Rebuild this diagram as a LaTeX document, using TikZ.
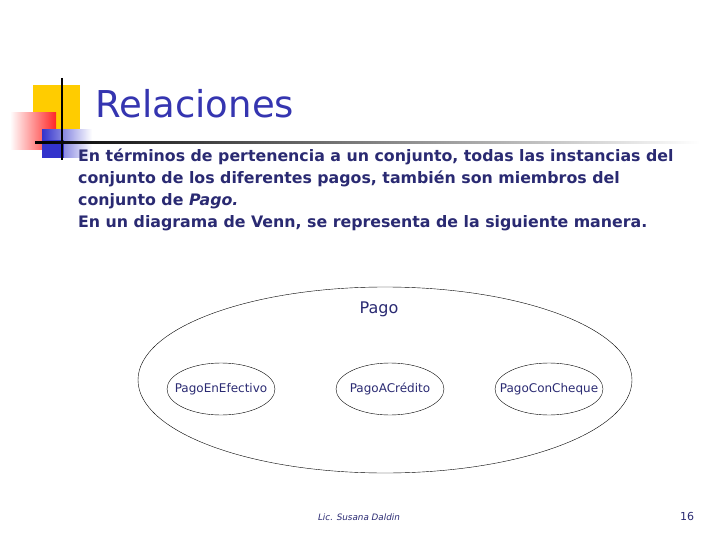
\documentclass[tikz,border=0pt]{standalone}
\usepackage{fontspec}
\setmainfont{DejaVu Sans}
\usetikzlibrary{shapes.geometric}
\definecolor{navy}{HTML}{2A2A72}
\definecolor{tblue}{HTML}{3535B0}
\definecolor{lyel}{HTML}{FFCC00}
\definecolor{lblue}{HTML}{3333CC}
\tikzset{inner/.style={ellipse,draw,minimum width=108pt,minimum height=52pt,inner sep=0pt},
ilabel/.style={font=\fontsize{12}{14}\selectfont,text=navy,inner sep=0pt}}
\begin{document}
\begin{tikzpicture}[x=1pt,y=-1pt]
\useasboundingbox (0,0) rectangle (720,540);
% logo
\fill[lyel] (33,85) rectangle (80,130);
\shade[left color=white,right color=red!85] (10,113) rectangle (56,150);
\shade[left color=lblue,right color=white] (42,130) rectangle (92,158);
\fill[lblue] (42,140) rectangle (64,158);
\draw[line width=1.6pt] (62,78) -- (62,160);
\shade[left color=black,right color=white] (35,141.5) rectangle (700,143.5);
\node[anchor=west,text=tblue,font=\fontsize{37}{42}\selectfont] (title) at (92,104) {Relaciones};
\node[anchor=north west,align=left,text=navy,font=\fontsize{15.8}{22}\bfseries\selectfont,inner sep=0pt] (body) at (78,149)
{En términos de pertenencia a un conjunto, todas las instancias del\\
conjunto de los diferentes pagos, también son miembros del\\
conjunto de \textit{Pago.}\\
En un diagrama de Venn, se representa de la siguiente manera.};
\node[ellipse,draw,minimum width=494pt,minimum height=186pt] (outer) at (385,380) {};
\node[text=navy,font=\fontsize{16}{18}\selectfont] (pago) at (379,309) {Pago};
\node[inner] (e) at (221,389) {};
\node[inner] (a) at (390,389) {};
\node[inner] (c) at (549,389) {};
\node[ilabel] (el) at (e) {PagoEnEfectivo};
\node[ilabel] (al) at (a) {PagoACrédito};
\node[ilabel] (cl) at (c) {PagoConCheque};
\node[text=navy,font=\fontsize{8.8}{10}\itshape\selectfont] (lic) at (359,517) {Lic. Susana Daldin};
\node[text=navy,font=\fontsize{11}{12}\selectfont] (num) at (687,516) {16};
\end{tikzpicture}
\end{document}
